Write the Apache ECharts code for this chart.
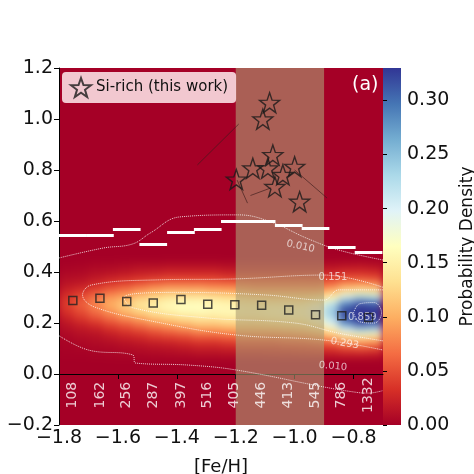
<!DOCTYPE html>
<html>
<head>
<meta charset="utf-8">
<script src="https://cdn.jsdelivr.net/npm/echarts@6/dist/echarts.min.js"></script>
<style>
body{margin:0;background:#fff;}
#clip{position:absolute;left:59px;top:68px;width:324px;height:357px;overflow:hidden;background:#a50026;}
#heat{position:absolute;left:-20px;top:-20px;width:364px;height:397px;filter:blur(4px);}
#main{position:absolute;left:0;top:0;width:474px;height:474px;}
</style>
</head>
<body>
<div id="clip"><div id="heat"></div></div>
<div id="main"></div>
<script>
// density grid, columns [Fe/H] -1.775 .. -0.725 step 0.05, rows [Si/Fe] 0.075 .. 0.425 step 0.025
var heatX = [];
for (var i = 0; i < 22; i++) heatX.push((-1.775 + i * 0.05).toFixed(3));
var heatY = ['0.075','0.100','0.125','0.150','0.175','0.200','0.225','0.250','0.275','0.300','0.325','0.350','0.375','0.400','0.425'];
var heatRows = [
  [.001,.001,.002,.003,.004,.005,.006,.007,.008,.01,.01,.011,.012,.012,.013,.014,.015,.016,.018,.02,.02,.018],
  [.002,.003,.004,.005,.007,.009,.011,.013,.016,.02,.02,.022,.025,.025,.025,.028,.03,.032,.035,.045,.05,.045],
  [.003,.005,.008,.01,.014,.018,.022,.025,.03,.035,.035,.04,.045,.045,.045,.05,.05,.055,.065,.085,.09,.085],
  [.005,.01,.012,.018,.025,.03,.04,.045,.05,.06,.06,.065,.07,.07,.07,.075,.08,.09,.11,.14,.15,.14],
  [.01,.015,.02,.03,.04,.05,.06,.07,.08,.09,.09,.095,.1,.1,.1,.105,.11,.12,.15,.2,.23,.22],
  [.015,.025,.035,.05,.06,.075,.09,.1,.11,.12,.12,.125,.125,.125,.13,.135,.14,.16,.2,.28,.32,.31],
  [.025,.04,.055,.07,.09,.1,.12,.13,.14,.145,.145,.15,.15,.15,.155,.16,.16,.18,.23,.32,.34,.34],
  [.035,.05,.07,.09,.11,.13,.145,.155,.165,.165,.16,.16,.16,.16,.165,.17,.17,.19,.24,.32,.34,.34],
  [.04,.06,.08,.1,.12,.14,.15,.16,.165,.165,.16,.155,.15,.15,.15,.15,.15,.17,.22,.29,.32,.31],
  [.035,.05,.07,.09,.1,.12,.13,.14,.145,.145,.14,.135,.13,.125,.12,.12,.12,.13,.16,.21,.24,.23],
  [.025,.035,.05,.065,.075,.09,.1,.11,.11,.11,.105,.1,.095,.09,.09,.09,.09,.09,.11,.14,.15,.14],
  [.015,.02,.03,.04,.05,.06,.07,.075,.075,.075,.07,.07,.065,.06,.06,.06,.06,.06,.07,.09,.095,.09],
  [.01,.012,.018,.025,.03,.035,.04,.045,.045,.045,.045,.04,.04,.04,.04,.04,.04,.04,.045,.055,.055,.05],
  [.005,.006,.01,.012,.015,.02,.022,.025,.025,.025,.025,.022,.02,.02,.02,.02,.02,.02,.025,.03,.03,.028],
  [.002,.003,.005,.006,.008,.01,.01,.012,.012,.012,.012,.01,.01,.01,.01,.01,.01,.01,.012,.014,.015,.012]
];
var rdylbu = ['#a50026','#d73027','#f46d43','#fdae61','#fee090','#ffffbf','#e0f3f8','#abd9e9','#74add1','#4575b4','#313695'];

// binned medians
var binFe = [-1.753,-1.661,-1.570,-1.480,-1.386,-1.295,-1.203,-1.112,-1.020,-0.929,-0.840,-0.749];
var binSi = [0.288,0.297,0.284,0.278,0.292,0.274,0.272,0.270,0.251,0.232,0.228,0.222];
var binCount = [108,162,256,287,397,516,405,446,413,545,786,1332];
var binUpper = [0.543,0.545,0.568,0.510,0.556,0.566,0.600,0.600,0.583,0.570,0.498,0.479];

// Si-rich stars
var starFe = [-1.085,-1.108,-1.074,-1.142,-1.091,-1.040,-1.000,-1.198,-1.067,-0.983];
var starSi = [1.064,0.999,0.859,0.807,0.807,0.781,0.813,0.763,0.734,0.676];
var starLinks = [[[-1.33,0.82],[-1.19,0.98]],[[-1.0,0.80],[-0.89,0.69]],[[-1.195,0.76],[-1.16,0.67]],[[-1.15,0.70],[-1.08,0.73]]];

// approximate contours
var contour010Top = [[-1.8,0.455],[-1.65,0.494],[-1.55,0.51],[-1.49,0.553],[-1.39,0.616],[-1.19,0.624],[-1.08,0.596],[-0.96,0.533],[-0.85,0.486],[-0.7,0.447]];
var contour010Bot = [[-1.8,0.15],[-1.7,0.094],[-1.55,0.075],[-1.54,0.043],[-1.36,0.035],[-1.2,0.016],[-0.9,-0.051],[-0.79,-0.072],[-0.75,-0.075],[-0.7,-0.065]];
var contour151 = [[-0.7,0.34],[-0.9,0.388],[-1.2,0.373],[-1.47,0.369],[-1.69,0.349],[-1.72,0.31],[-1.68,0.263],[-1.47,0.204],[-1.2,0.153],[-0.9,0.133],[-0.7,0.094]];
var contour293 = [[-0.7,0.33],[-0.85,0.33],[-0.9,0.29],[-1.1,0.31],[-1.4,0.32],[-1.58,0.30],[-1.55,0.26],[-1.3,0.22],[-1.0,0.2],[-0.85,0.16],[-0.7,0.13]];
var contour859 = [[-0.8,0.24],[-0.78,0.275],[-0.73,0.28],[-0.705,0.24],[-0.73,0.2],[-0.78,0.205],[-0.8,0.24]];

var heatData = [];
heatRows.forEach(function (row, r) {
    row.forEach(function (v, c) { heatData.push([c, r, v]); });
});

var heat = echarts.init(document.getElementById('heat'));
var yPx = function (v) { return (1.2 - v) / 1.4 * 357; };
heat.setOption({
    backgroundColor: '#a50026',
    animation: false,
    grid: {left: 20, right: 20, top: 20 + yPx(0.4375), height: yPx(0.0625) - yPx(0.4375), outerBoundsMode: 'none'},
    xAxis: {type: 'category', data: heatX, show: false},
    yAxis: {type: 'category', data: heatY, show: false},
    visualMap: {show: false, min: 0, max: 0.33, inRange: {color: rdylbu}},
    series: [{type: 'heatmap', data: heatData, itemStyle: {borderWidth: 0}}]
});

var starPath = 'path://M0,-10L2.35,-3.24L9.51,-3.09L3.8,1.24L5.88,8.09L0,4L-5.88,8.09L-3.8,1.24L-9.51,-3.09L-2.35,-3.24Z';
var font = 'DejaVu Sans';

var steps = [];
binFe.forEach(function (x, i) { steps.push({coords: [[x - 0.047, binUpper[i]], [x + 0.047, binUpper[i]]]}); });

var contourStyle = {color: 'rgba(255,255,255,0.8)', width: 1, type: 'dotted'};
function contour(pts) {
    return {type: 'line', data: pts, showSymbol: false, smooth: 0.4, lineStyle: contourStyle, silent: true, z: 3};
}
function minus(v) { return v.toFixed(1).replace('-', '\u2212'); }

var chart = echarts.init(document.getElementById('main'));
chart.setOption({
    animation: false,
    textStyle: {fontFamily: font},
    grid: [
        {left: 59, top: 68, width: 324, height: 357, outerBoundsMode: 'none'},
        {left: 383, top: 68, width: 18, height: 357, outerBoundsMode: 'none'}
    ],
    xAxis: [
        {type: 'value', min: -1.8, max: -0.7, interval: 0.2, name: '[Fe/H]', nameLocation: 'middle', nameGap: 33,
         nameTextStyle: {fontSize: 18, color: '#111'},
         axisLine: {lineStyle: {color: '#000'}}, axisTick: {length: 5, lineStyle: {color: '#000'}},
         axisLabel: {fontSize: 19, color: '#111', margin: 4, formatter: minus},
         splitLine: {show: false}},
        {gridIndex: 1, type: 'value', show: false, min: 0, max: 1}
    ],
    yAxis: [
        {type: 'value', min: -0.2, max: 1.2, interval: 0.2, name: '[Si/Fe]', nameLocation: 'middle', nameGap: 44,
         nameTextStyle: {fontSize: 18, color: '#111'},
         axisLine: {show: true, lineStyle: {color: '#000'}}, axisTick: {show: true, length: 5, lineStyle: {color: '#000'}},
         axisLabel: {fontSize: 19, color: '#111', margin: 6, formatter: minus},
         splitLine: {show: false}},
        {gridIndex: 1, type: 'value', position: 'right', min: 0, max: 0.33, interval: 0.05,
         name: 'Probability Density', nameLocation: 'middle', nameGap: 58, nameRotate: 90,
         nameTextStyle: {fontSize: 17, color: '#111'},
         axisLine: {show: false}, axisTick: {show: true, length: 4, lineStyle: {color: '#000'}},
         axisLabel: {fontSize: 19, color: '#111', margin: 6, showMaxLabel: false, formatter: function (v) { return v.toFixed(2); }},
         splitLine: {show: false}}
    ],
    graphic: [
        {type: 'rect', left: 383, top: 68, shape: {width: 18, height: 357}, z: 0,
         style: {fill: new echarts.graphic.LinearGradient(0, 1, 0, 0, rdylbu.map(function (c, i) { return {offset: i / 10, color: c}; }))}},
        {type: 'text', left: 352, top: 76, style: {text: '(a)', fill: '#fff', font: '19px DejaVu Sans'}}
    ],
    legend: {left: 62, top: 72, padding: [5, 8], itemWidth: 20, itemHeight: 20, itemGap: 6,
             backgroundColor: 'rgba(255,235,238,0.85)', borderRadius: 4,
             textStyle: {fontSize: 15, color: '#111', fontFamily: font},
             data: [{name: 'Si-rich (this work)', icon: starPath}]},
    series: [
        {type: 'line', data: [], markArea: {silent: true, itemStyle: {color: 'rgba(173,158,116,0.6)'}, data: [[{xAxis: -1.2}, {xAxis: -0.9}]]}, z: 2},
        contour(contour010Top), contour(contour010Bot), contour(contour151), contour(contour293), contour(contour859),
        {type: 'scatter', silent: true, symbolSize: 0, z: 4,
         data: [{value: [-0.98, 0.5], label: {formatter: '0.010', rotate: -12}}, {value: [-0.87, 0.03], label: {formatter: '0.010', rotate: -5}},
                {value: [-0.87, 0.38], label: {formatter: '0.151'}}, {value: [-0.83, 0.12], label: {formatter: '0.293', rotate: -10}},
                {value: [-0.77, 0.22], label: {formatter: '0.859'}}],
         label: {show: true, color: 'rgba(255,255,255,0.85)', fontSize: 10}},
        {type: 'lines', coordinateSystem: 'cartesian2d', polyline: false, silent: true, z: 5,
         lineStyle: {color: '#fff', width: 3, opacity: 1}, data: steps},
        {type: 'scatter', symbol: 'rect', symbolSize: 8, z: 6,
         itemStyle: {color: 'rgba(0,0,0,0)', borderColor: '#222', borderWidth: 1.5},
         data: binFe.map(function (x, i) { return [x, binSi[i]]; })},
        {type: 'scatter', symbolSize: 0, z: 6, silent: true,
         data: binFe.map(function (x, i) { return [x, -0.083]; }),
         label: {show: true, rotate: 90, color: '#fff', fontSize: 14, position: 'inside',
                 formatter: function (p) { return binCount[p.dataIndex]; }}},
        {type: 'lines', coordinateSystem: 'cartesian2d', silent: true, z: 6,
         lineStyle: {color: '#3a1a1a', width: 0.8, opacity: 0.8},
         data: starLinks.map(function (c) { return {coords: c}; })},
        {type: 'scatter', name: 'Si-rich (this work)', symbol: starPath, symbolSize: 20, z: 7,
         itemStyle: {color: 'rgba(0,0,0,0)', borderColor: '#1a1a1a', borderWidth: 1.4},
         data: starFe.map(function (x, i) { return [x, starSi[i]]; })}
    ]
});
</script>
</body>
</html>
